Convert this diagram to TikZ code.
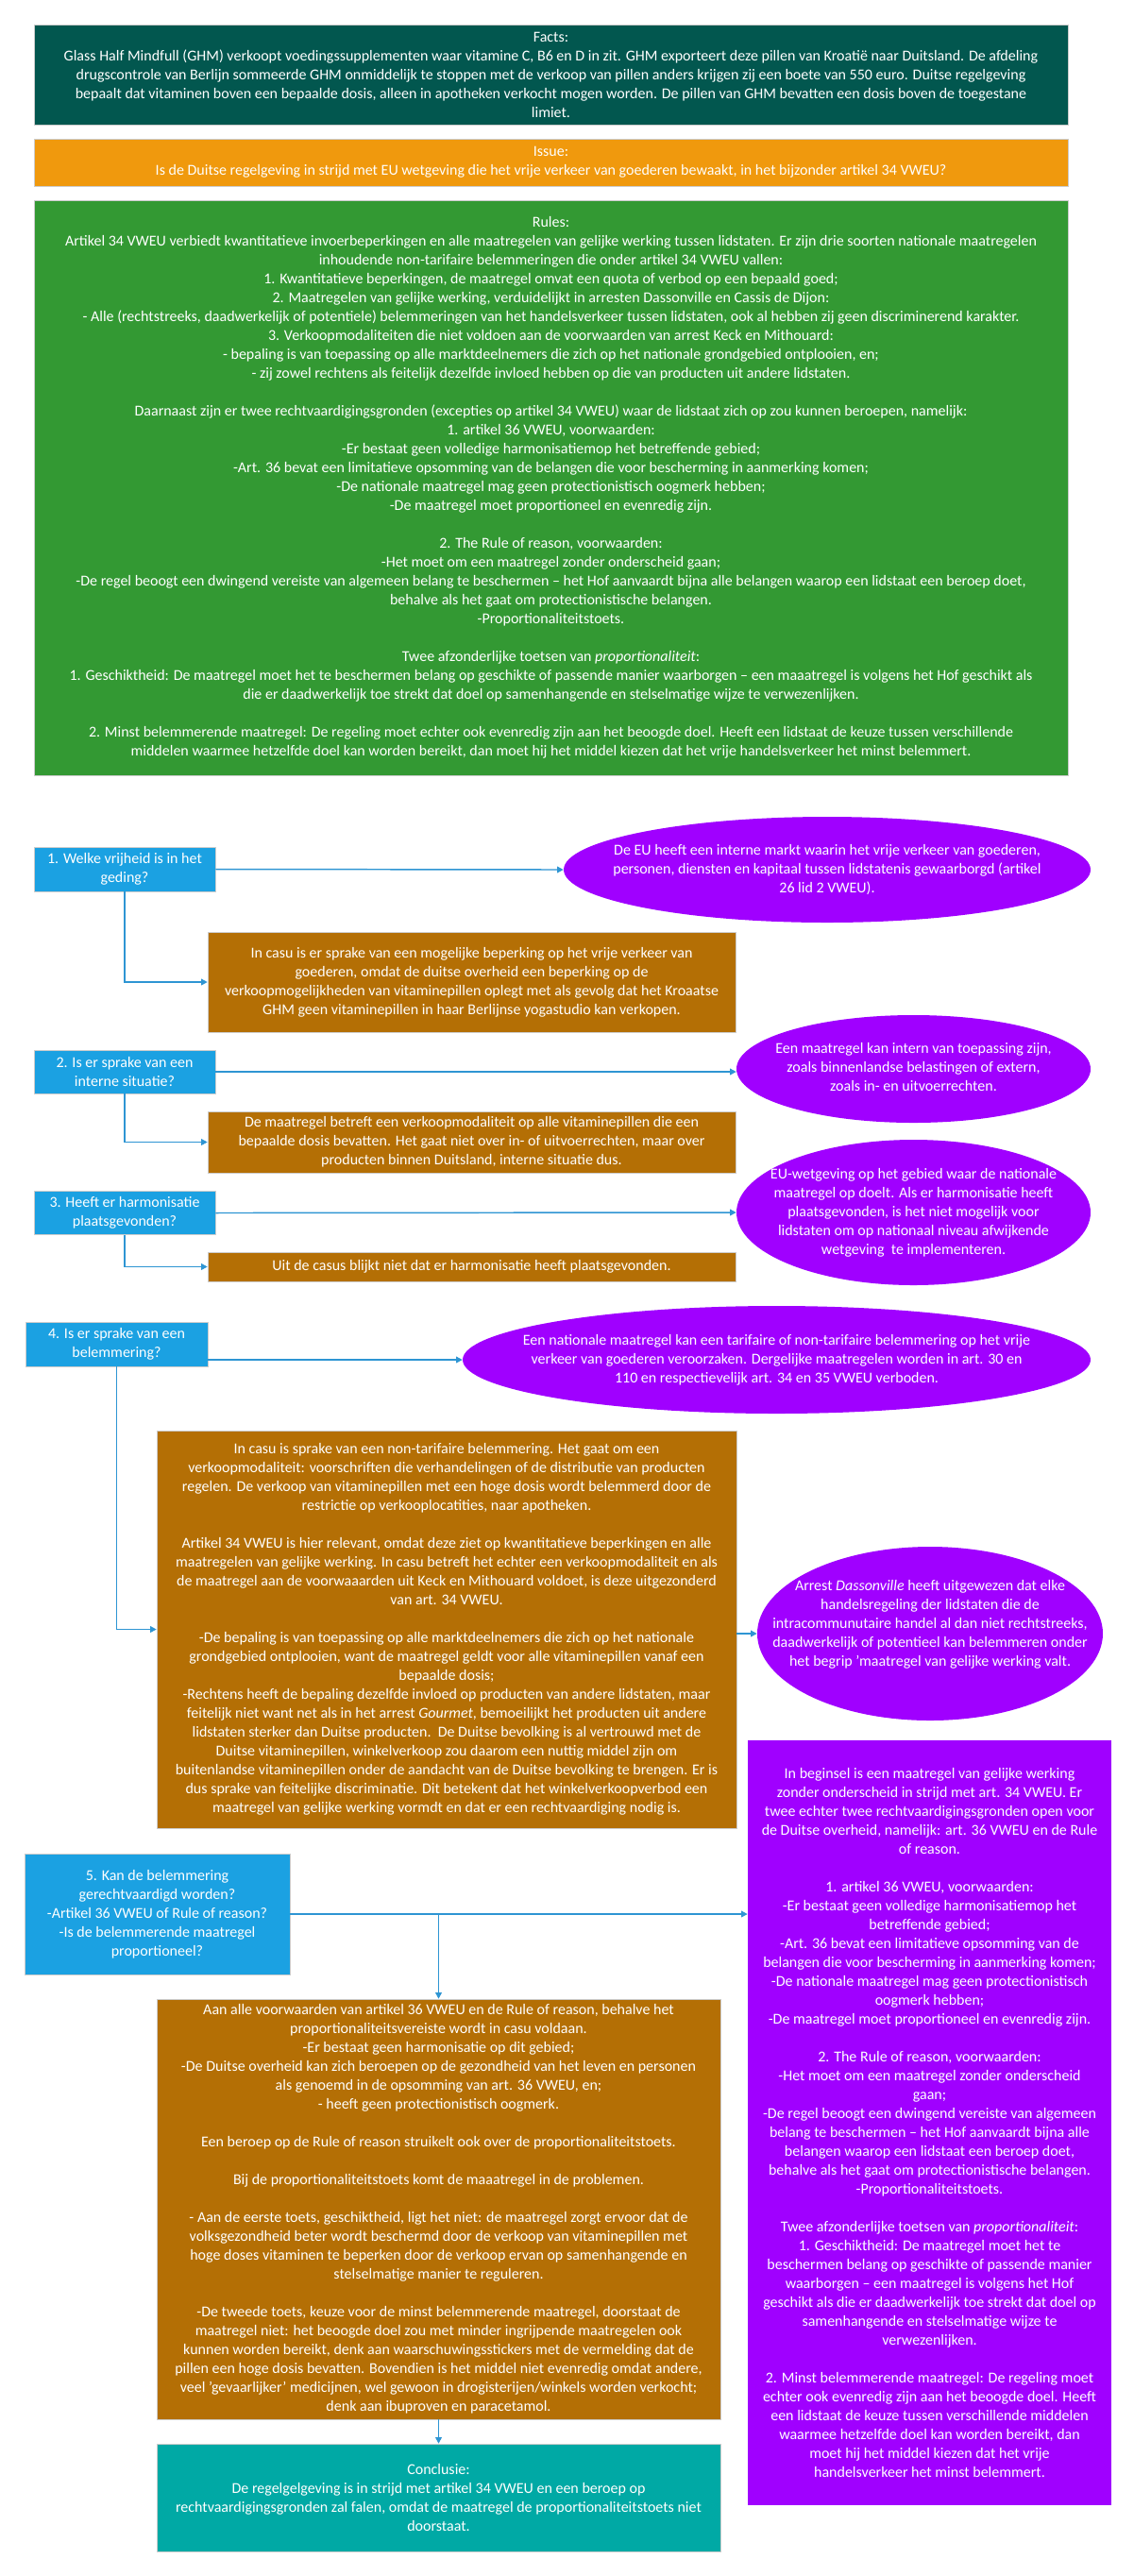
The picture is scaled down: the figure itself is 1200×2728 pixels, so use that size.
\documentclass[tikz,border=0pt]{standalone}
\usepackage{fontspec}
\setmainfont{Carlito}
\usetikzlibrary{shapes.geometric,arrows.meta}
\newcommand\pxl[1]{#1*0.75pt}
\definecolor{factc}{HTML}{02574F}
\definecolor{issuec}{HTML}{F0990D}
\definecolor{rulec}{HTML}{339933}
\definecolor{qc}{HTML}{1BA1E2}
\definecolor{brc}{HTML}{B46F05}
\definecolor{puc}{HTML}{A000FF}
\definecolor{tec}{HTML}{00A9A5}
\definecolor{linec}{HTML}{2E95D3}
\tikzset{
  txt/.style={text=white, align=center, inner sep=0pt, font=\fontsize{12}{15}\selectfont},
  boxx/.style={txt, rectangle, draw=white!80!black, line width=0.4pt},
  ell/.style={ellipse, fill=puc, inner sep=0pt},
  conn/.style={draw=linec, line width=1.1pt, -{Triangle[width=5pt,length=5pt]}},
  plain/.style={draw=linec, line width=1.1pt}
}
\begin{document}
\begin{tikzpicture}[x=0.75pt,y=-0.75pt]
\fill[white] (0,0) rectangle (1200,2728);
\useasboundingbox (0,0) rectangle (1200,2728);

\node[boxx, fill=factc, minimum width=\pxl{1095}, minimum height=\pxl{106}] (facts) at (583.5,79) {Facts:\\
Glass Half Mindfull (GHM) verkoopt voedingssupplementen waar vitamine C, B6 en D in zit. GHM exporteert deze pillen van Kroatië naar Duitsland. De afdeling\\
drugscontrole van Berlijn sommeerde GHM onmiddelijk te stoppen met de verkoop van pillen anders krijgen zij een boete van 550 euro. Duitse regelgeving\\
bepaalt dat vitaminen boven een bepaalde dosis, alleen in apotheken verkocht mogen worden. De pillen van GHM bevatten een dosis boven de toegestane\\
limiet.};

\node[boxx, fill=issuec, minimum width=\pxl{1095}, minimum height=\pxl{50}] (issue) at (583.5,172) {Issue:\\
Is de Duitse regelgeving in strijd met EU wetgeving die het vrije verkeer van goederen bewaakt, in het bijzonder artikel 34 VWEU?};

\node[boxx, fill=rulec, minimum width=\pxl{1095}, minimum height=\pxl{609}] (rules) at (583.5,516.5) {Rules:\\
Artikel 34 VWEU verbiedt kwantitatieve invoerbeperkingen en alle maatregelen van gelijke werking tussen lidstaten. Er zijn drie soorten nationale maatregelen\\
inhoudende non-tarifaire belemmeringen die onder artikel 34 VWEU vallen:\\
1. Kwantitatieve beperkingen, de maatregel omvat een quota of verbod op een bepaald goed;\\
2. Maatregelen van gelijke werking, verduidelijkt in arresten Dassonville en Cassis de Dijon:\\
- Alle (rechtstreeks, daadwerkelijk of potentiele) belemmeringen van het handelsverkeer tussen lidstaten, ook al hebben zij geen discriminerend karakter.\\
3. Verkoopmodaliteiten die niet voldoen aan de voorwaarden van arrest Keck en Mithouard:\\
- bepaling is van toepassing op alle marktdeelnemers die zich op het nationale grondgebied ontplooien, en;\\
- zij zowel rechtens als feitelijk dezelfde invloed hebben op die van producten uit andere lidstaten.\\[15pt]
Daarnaast zijn er twee rechtvaardigingsgronden (excepties op artikel 34 VWEU) waar de lidstaat zich op zou kunnen beroepen, namelijk:\\
1. artikel 36 VWEU, voorwaarden:\\
-Er bestaat geen volledige harmonisatiemop het betreffende gebied;\\
-Art. 36 bevat een limitatieve opsomming van de belangen die voor bescherming in aanmerking komen;\\
-De nationale maatregel mag geen protectionistisch oogmerk hebben;\\
-De maatregel moet proportioneel en evenredig zijn.\\[15pt]
2. The Rule of reason, voorwaarden:\\
-Het moet om een maatregel zonder onderscheid gaan;\\
-De regel beoogt een dwingend vereiste van algemeen belang te beschermen – het Hof aanvaardt bijna alle belangen waarop een lidstaat een beroep doet,\\
behalve als het gaat om protectionistische belangen.\\
-Proportionaliteitstoets.\\[15pt]
Twee afzonderlijke toetsen van \textit{proportionaliteit}:\\
1. Geschiktheid: De maatregel moet het te beschermen belang op geschikte of passende manier waarborgen – een maaatregel is volgens het Hof geschikt als\\
die er daadwerkelijk toe strekt dat doel op samenhangende en stelselmatige wijze te verwezenlijken.\\[15pt]
2. Minst belemmerende maatregel: De regeling moet echter ook evenredig zijn aan het beoogde doel. Heeft een lidstaat de keuze tussen verschillende\\
middelen waarmee hetzelfde doel kan worden bereikt, dan moet hij het middel kiezen dat het vrije handelsverkeer het minst belemmert.};

% Question 1
\node[boxx, fill=qc, minimum width=\pxl{192}, minimum height=\pxl{47}] (q1) at (132,920.5) {1. Welke vrijheid is in het\\ geding?};
\node[ell, minimum width=\pxl{558}, minimum height=\pxl{112}] (e1) at (876,921) {};
\node[txt] (e1t) at (876,921) {De EU heeft een interne markt waarin het vrije verkeer van goederen,\\ personen, diensten en kapitaal tussen lidstatenis gewaarborgd (artikel\\ 26 lid 2 VWEU).};
\node[boxx, fill=brc, minimum width=\pxl{559}, minimum height=\pxl{106}] (b1) at (499.5,1040) {In casu is er sprake van een mogelijke beperking op het vrije verkeer van\\ goederen, omdat de duitse overheid een beperking op de\\ verkoopmogelijkheden van vitaminepillen oplegt met als gevolg dat het Kroaatse\\ GHM geen vitaminepillen in haar Berlijnse yogastudio kan verkopen.};

% Question 2
\node[boxx, fill=qc, minimum width=\pxl{192}, minimum height=\pxl{46}] (q2) at (132,1135) {2. Is er sprake van een\\ interne situatie?};
\node[ell, minimum width=\pxl{375}, minimum height=\pxl{114}] (e2) at (967.5,1132) {};
\node[txt] (e2t) at (967.5,1130) {Een maatregel kan intern van toepassing zijn,\\ zoals binnenlandse belastingen of extern,\\ zoals in- en uitvoerrechten.};
\node[boxx, fill=brc, minimum width=\pxl{559}, minimum height=\pxl{65}] (b2) at (499.5,1209.5) {De maatregel betreft een verkoopmodaliteit op alle vitaminepillen die een\\ bepaalde dosis bevatten. Het gaat niet over in- of uitvoerrechten, maar over\\ producten binnen Duitsland, interne situatie dus.};

% Question 3
\node[boxx, fill=qc, minimum width=\pxl{192}, minimum height=\pxl{46}] (q3) at (132,1284.5) {3. Heeft er harmonisatie\\ plaatsgevonden?};
\node[ell, minimum width=\pxl{375}, minimum height=\pxl{154}] (e3) at (967.5,1284) {};
\node[txt] (e3t) at (967.5,1284) {EU-wetgeving op het gebied waar de nationale\\ maatregel op doelt. Als er harmonisatie heeft\\ plaatsgevonden, is het niet mogelijk voor\\ lidstaten om op nationaal niveau afwijkende\\ wetgeving\ \ te implementeren.};
\node[boxx, fill=brc, minimum width=\pxl{559}, minimum height=\pxl{31}] (b3) at (499.5,1341.5) {Uit de casus blijkt niet dat er harmonisatie heeft plaatsgevonden.};

% Question 4
\node[boxx, fill=qc, minimum width=\pxl{193}, minimum height=\pxl{47}] (q4) at (123.5,1423.5) {4. Is er sprake van een\\ belemmering?};
\node[ell, minimum width=\pxl{665}, minimum height=\pxl{114}] (e4) at (822.5,1440) {};
\node[txt] (e4t) at (822.5,1440) {Een nationale maatregel kan een tarifaire of non-tarifaire belemmering op het vrije\\ verkeer van goederen veroorzaken. Dergelijke maatregelen worden in art. 30 en\\ 110 en respectievelijk art. 34 en 35 VWEU verboden.};
\node[boxx, fill=brc, minimum width=\pxl{614}, minimum height=\pxl{421}] (b4) at (473,1725.5) {In casu is sprake van een non-tarifaire belemmering. Het gaat om een\\
verkoopmodaliteit: voorschriften die verhandelingen of de distributie van producten\\
regelen. De verkoop van vitaminepillen met een hoge dosis wordt belemmerd door de\\
restrictie op verkooplocatities, naar apotheken.\\[15pt]
Artikel 34 VWEU is hier relevant, omdat deze ziet op kwantitatieve beperkingen en alle\\
maatregelen van gelijke werking. In casu betreft het echter een verkoopmodaliteit en als\\
de maatregel aan de voorwaaarden uit Keck en Mithouard voldoet, is deze uitgezonderd\\
van art. 34 VWEU.\\[15pt]
-De bepaling is van toepassing op alle marktdeelnemers die zich op het nationale\\
grondgebied ontplooien, want de maatregel geldt voor alle vitaminepillen vanaf een\\
bepaalde dosis;\\
-Rechtens heeft de bepaling dezelfde invloed op producten van andere lidstaten, maar\\
feitelijk niet want net als in het arrest \textit{Gourmet}, bemoeilijkt het producten uit andere\\
lidstaten sterker dan Duitse producten.\ \ De Duitse bevolking is al vertrouwd met de\\
Duitse vitaminepillen, winkelverkoop zou daarom een nuttig middel zijn om\\
buitenlandse vitaminepillen onder de aandacht van de Duitse bevolking te brengen. Er is\\
dus sprake van feitelijke discriminatie. Dit betekent dat het winkelverkoopverbod een\\
maatregel van gelijke werking vormdt en dat er een rechtvaardiging nodig is.};
\node[ell, minimum width=\pxl{366}, minimum height=\pxl{184}] (e5) at (985,1730) {};
\node[txt] (e5t) at (985,1720) {Arrest \textit{Dassonville} heeft uitgewezen dat elke\\ handelsregeling der lidstaten die de\\ intracommunutaire handel al dan niet rechtstreeks,\\ daadwerkelijk of potentieel kan belemmeren onder\\ het begrip 'maatregel van gelijke werking valt.};

% Question 5
\node[boxx, fill=qc, minimum width=\pxl{281}, minimum height=\pxl{128}] (q5) at (166.5,2027) {5. Kan de belemmering\\ gerechtvaardigd worden?\\ -Artikel 36 VWEU of Rule of reason?\\ -Is de belemmerende maatregel\\ proportioneel?};
\node[boxx, fill=puc, draw=none, minimum width=\pxl{385}, minimum height=\pxl{810}] (pu) at (984.5,2248) {In beginsel is een maatregel van gelijke werking\\
zonder onderscheid in strijd met art. 34 VWEU. Er\\
twee echter twee rechtvaardigingsgronden open voor\\
de Duitse overheid, namelijk: art. 36 VWEU en de Rule\\
of reason.\\[15pt]
1. artikel 36 VWEU, voorwaarden:\\
-Er bestaat geen volledige harmonisatiemop het\\
betreffende gebied;\\
-Art. 36 bevat een limitatieve opsomming van de\\
belangen die voor bescherming in aanmerking komen;\\
-De nationale maatregel mag geen protectionistisch\\
oogmerk hebben;\\
-De maatregel moet proportioneel en evenredig zijn.\\[15pt]
2. The Rule of reason, voorwaarden:\\
-Het moet om een maatregel zonder onderscheid\\
gaan;\\
-De regel beoogt een dwingend vereiste van algemeen\\
belang te beschermen – het Hof aanvaardt bijna alle\\
belangen waarop een lidstaat een beroep doet,\\
behalve als het gaat om protectionistische belangen.\\
-Proportionaliteitstoets.\\[15pt]
Twee afzonderlijke toetsen van \textit{proportionaliteit}:\\
1. Geschiktheid: De maatregel moet het te\\
beschermen belang op geschikte of passende manier\\
waarborgen – een maatregel is volgens het Hof\\
geschikt als die er daadwerkelijk toe strekt dat doel op\\
samenhangende en stelselmatige wijze te\\
verwezenlijken.\\[15pt]
2. Minst belemmerende maatregel: De regeling moet\\
echter ook evenredig zijn aan het beoogde doel. Heeft\\
een lidstaat de keuze tussen verschillende middelen\\
waarmee hetzelfde doel kan worden bereikt, dan\\
moet hij het middel kiezen dat het vrije\\
handelsverkeer het minst belemmert.};
\node[boxx, fill=brc, minimum width=\pxl{597}, minimum height=\pxl{445}] (b5) at (464.5,2339.5) {Aan alle voorwaarden van artikel 36 VWEU en de Rule of reason, behalve het\\
proportionaliteitsvereiste wordt in casu voldaan.\\
-Er bestaat geen harmonisatie op dit gebied;\\
-De Duitse overheid kan zich beroepen op de gezondheid van het leven en personen\\
als genoemd in de opsomming van art. 36 VWEU, en;\\
- heeft geen protectionistisch oogmerk.\\[15pt]
Een beroep op de Rule of reason struikelt ook over de proportionaliteitstoets.\\[15pt]
Bij de proportionaliteitstoets komt de maaatregel in de problemen.\\[15pt]
- Aan de eerste toets, geschiktheid, ligt het niet: de maatregel zorgt ervoor dat de\\
volksgezondheid beter wordt beschermd door de verkoop van vitaminepillen met\\
hoge doses vitaminen te beperken door de verkoop ervan op samenhangende en\\
stelselmatige manier te reguleren.\\[15pt]
-De tweede toets, keuze voor de minst belemmerende maatregel, doorstaat de\\
maatregel niet: het beoogde doel zou met minder ingrijpende maatregelen ook\\
kunnen worden bereikt, denk aan waarschuwingsstickers met de vermelding dat de\\
pillen een hoge dosis bevatten. Bovendien is het middel niet evenredig omdat andere,\\
veel 'gevaarlijker' medicijnen, wel gewoon in drogisterijen/winkels worden verkocht;\\
denk aan ibuproven en paracetamol.};
\node[boxx, fill=tec, minimum width=\pxl{597}, minimum height=\pxl{114}] (te) at (464.5,2645) {Conclusie:\\
De regelgelgeving is in strijd met artikel 34 VWEU en een beroep op\\
rechtvaardigingsgronden zal falen, omdat de maatregel de proportionaliteitstoets niet\\
doorstaat.};

% connectors
\draw[conn] (q1.east) -- (e1.west);
\draw[conn] (q1.south) |- (b1.west);
\draw[conn] (q2.east) -- (q2.east -| e2.west);
\draw[conn] (q2.south) |- (b2.west);
\draw[conn] (q3.east) -- (e3.west);
\draw[conn] (q3.south) |- (b3.west);
\draw[conn] (q4.east |- e4.west) -- (e4.west);
\draw[conn] (q4.south) |- (b4.west);
\draw[conn] (b4.east |- e5.west) -- (e5.west);
\draw[conn] (q5.east) -- (q5.east -| pu.west);
\coordinate (br) at (b5.north |- q5.east);
\draw[conn] (br) -- (b5.north);
\draw[conn] (b5.south) -- (te.north);
\end{tikzpicture}
\end{document}
